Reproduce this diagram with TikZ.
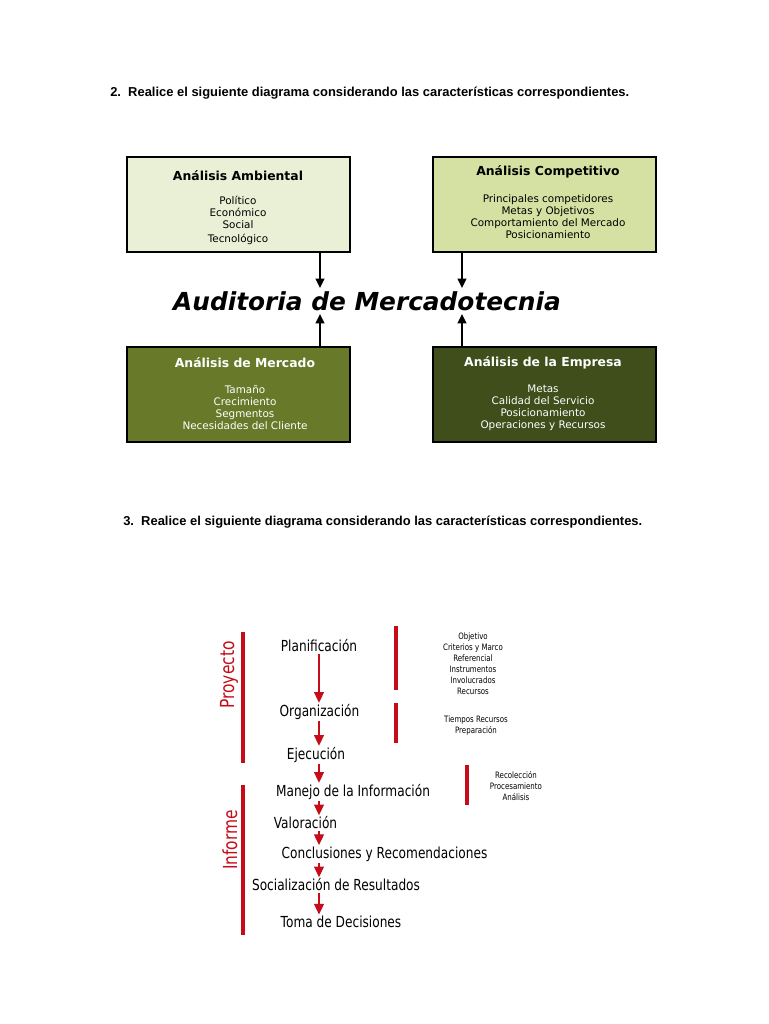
\documentclass[tikz,border=0pt]{standalone}
\usepackage{fontspec}
\setmainfont{DejaVu Sans}
\newfontfamily\arialfont{Liberation Sans}
\newfontfamily\flowfont[FakeStretch=0.8]{DejaVu Sans}
\usetikzlibrary{arrows.meta}
\definecolor{aaC}{RGB}{234,240,214}
\definecolor{acC}{RGB}{213,225,162}
\definecolor{amC}{RGB}{104,121,42}
\definecolor{aeC}{RGB}{63,78,27}
\definecolor{redC}{RGB}{198,12,24}
\tikzset{
  box/.style={draw=black, line width=1.6pt, minimum width=167pt, minimum height=71pt, inner sep=0pt},
  btitle/.style={font=\bfseries\fontsize{9.3}{11}\selectfont, inner sep=0pt},
  bitems/.style={font=\fontsize{7.8}{9}\selectfont, align=center, inner sep=0pt},
  heading/.style={anchor=west, font=\arialfont\bfseries\fontsize{9.7}{11}\selectfont, inner sep=0pt},
  barr/.style={line width=1.3pt, -{Triangle[length=7pt,width=6.5pt]}},
  flow/.style={font=\flowfont\fontsize{11.4}{13}\selectfont, inner sep=1pt},
  rarr/.style={draw=redC, line width=0.8pt, -{Triangle[length=8pt,width=7.5pt]}, color=redC},
  rbar/.style={draw=redC, line width=2.3pt},
  side/.style={text=redC, rotate=90, font=\flowfont\fontsize{14.5}{16}\selectfont, inner sep=0pt},
  small/.style={font=\flowfont\fontsize{6.6}{8.2}\selectfont, align=center, inner sep=0pt}
}
\begin{document}
\begin{tikzpicture}[x=0.75pt,y=-0.75pt]
\useasboundingbox (0,0) rectangle (768,1024);
\fill[white] (0,0) rectangle (768,1024);

\node[heading] (h2) at (110,93) {2.\ \ Realice el siguiente diagrama considerando las características correspondientes.};

% boxes
\node[box, fill=aaC] (aa) at (238.5,204.5) {};
\node[box, fill=acC] (ac) at (544.5,204.5) {};
\node[box, fill=amC] (am) at (238.5,394.5) {};
\node[box, fill=aeC] (ae) at (544.5,394.5) {};

\node[btitle] (aat) at (238,176) {Análisis Ambiental};
\node[bitems, anchor=north] (aai) at (238,196) {Político\\Económico\\Social\\[1.5pt]Tecnológico};
\node[btitle] (act) at (548,172) {Análisis Competitivo};
\node[bitems, anchor=north] (aci) at (548,194) {Principales competidores\\Metas y Objetivos\\Comportamiento del Mercado\\Posicionamiento};
\node[btitle, text=white] (amt) at (245,363) {Análisis de Mercado};
\node[bitems, text=white, anchor=north] (ami) at (245,385) {Tamaño\\Crecimiento\\Segmentos\\Necesidades del Cliente};
\node[btitle, text=white] (aet) at (543,363) {Análisis de la Empresa};
\node[bitems, text=white, anchor=north] (aei) at (543,385) {Metas\\Calidad del Servicio\\Posicionamiento\\Operaciones y Recursos};

\node[font=\bfseries\itshape\fontsize{18.6}{20}\selectfont, inner sep=0pt] (aud) at (367,301) {Auditoria de Mercadotecnia};

\coordinate (cl) at (320,0);
\coordinate (cr) at (462,0);
\coordinate (tt) at (0,288);
\coordinate (tb) at (0,314);
\draw[barr] (aa.south -| cl) -- (tt -| cl);
\draw[barr] (ac.south -| cr) -- (tt -| cr);
\draw[barr] (am.north -| cl) -- (tb -| cl);
\draw[barr] (ae.north -| cr) -- (tb -| cr);

\node[heading] (h3) at (123,522) {3.\ \ Realice el siguiente diagrama considerando las características correspondientes.};

% flow
\node[flow] (pl) at (319,646) {Planificación};
\node[flow] (or) at (319.5,712) {Organización};
\node[flow] (ej) at (316,755) {Ejecución};
\node[flow] (mi) at (353,792) {Manejo de la Información};
\node[flow] (va) at (305.5,823) {Valoración};
\node[flow] (co) at (384.5,854) {Conclusiones y Recomendaciones};
\node[flow] (so) at (336,885) {Socialización de Resultados};
\node[flow] (to) at (341,922) {Toma de Decisiones};

\coordinate (ax) at (319,0);
\draw[rarr] (pl.south -| ax) -- (or.north -| ax);
\draw[rarr] (or.south -| ax) -- (ej.north -| ax);
\draw[rarr] (ej.south -| ax) -- (mi.north -| ax);
\draw[rarr] (mi.south -| ax) -- (va.north -| ax);
\draw[rarr] (va.south -| ax) -- (co.north -| ax);
\draw[rarr] (co.south -| ax) -- (so.north -| ax);
\draw[rarr] (so.south -| ax) -- (to.north -| ax);

\draw[rbar] (243,632) -- (243,763);
\draw[rbar] (243,785) -- (243,935);
\draw[rbar] (396,626) -- (396,690);
\draw[rbar] (396,703) -- (396,743);
\draw[rbar] (467,765) -- (467,805);

\node[side] (proy) at (229,675) {Proyecto};
\node[side] (inf) at (230,840) {Informe};

\node[small] (s1) at (473,664) {Objetivo\\Criterios y Marco\\Referencial\\Instrumentos\\Involucrados\\Recursos};
\node[small] (s2) at (476,726) {Tiempos Recursos\\Preparación};
\node[small] (s3) at (516,786) {Recolección\\Procesamiento\\Análisis};
\end{tikzpicture}
\end{document}
